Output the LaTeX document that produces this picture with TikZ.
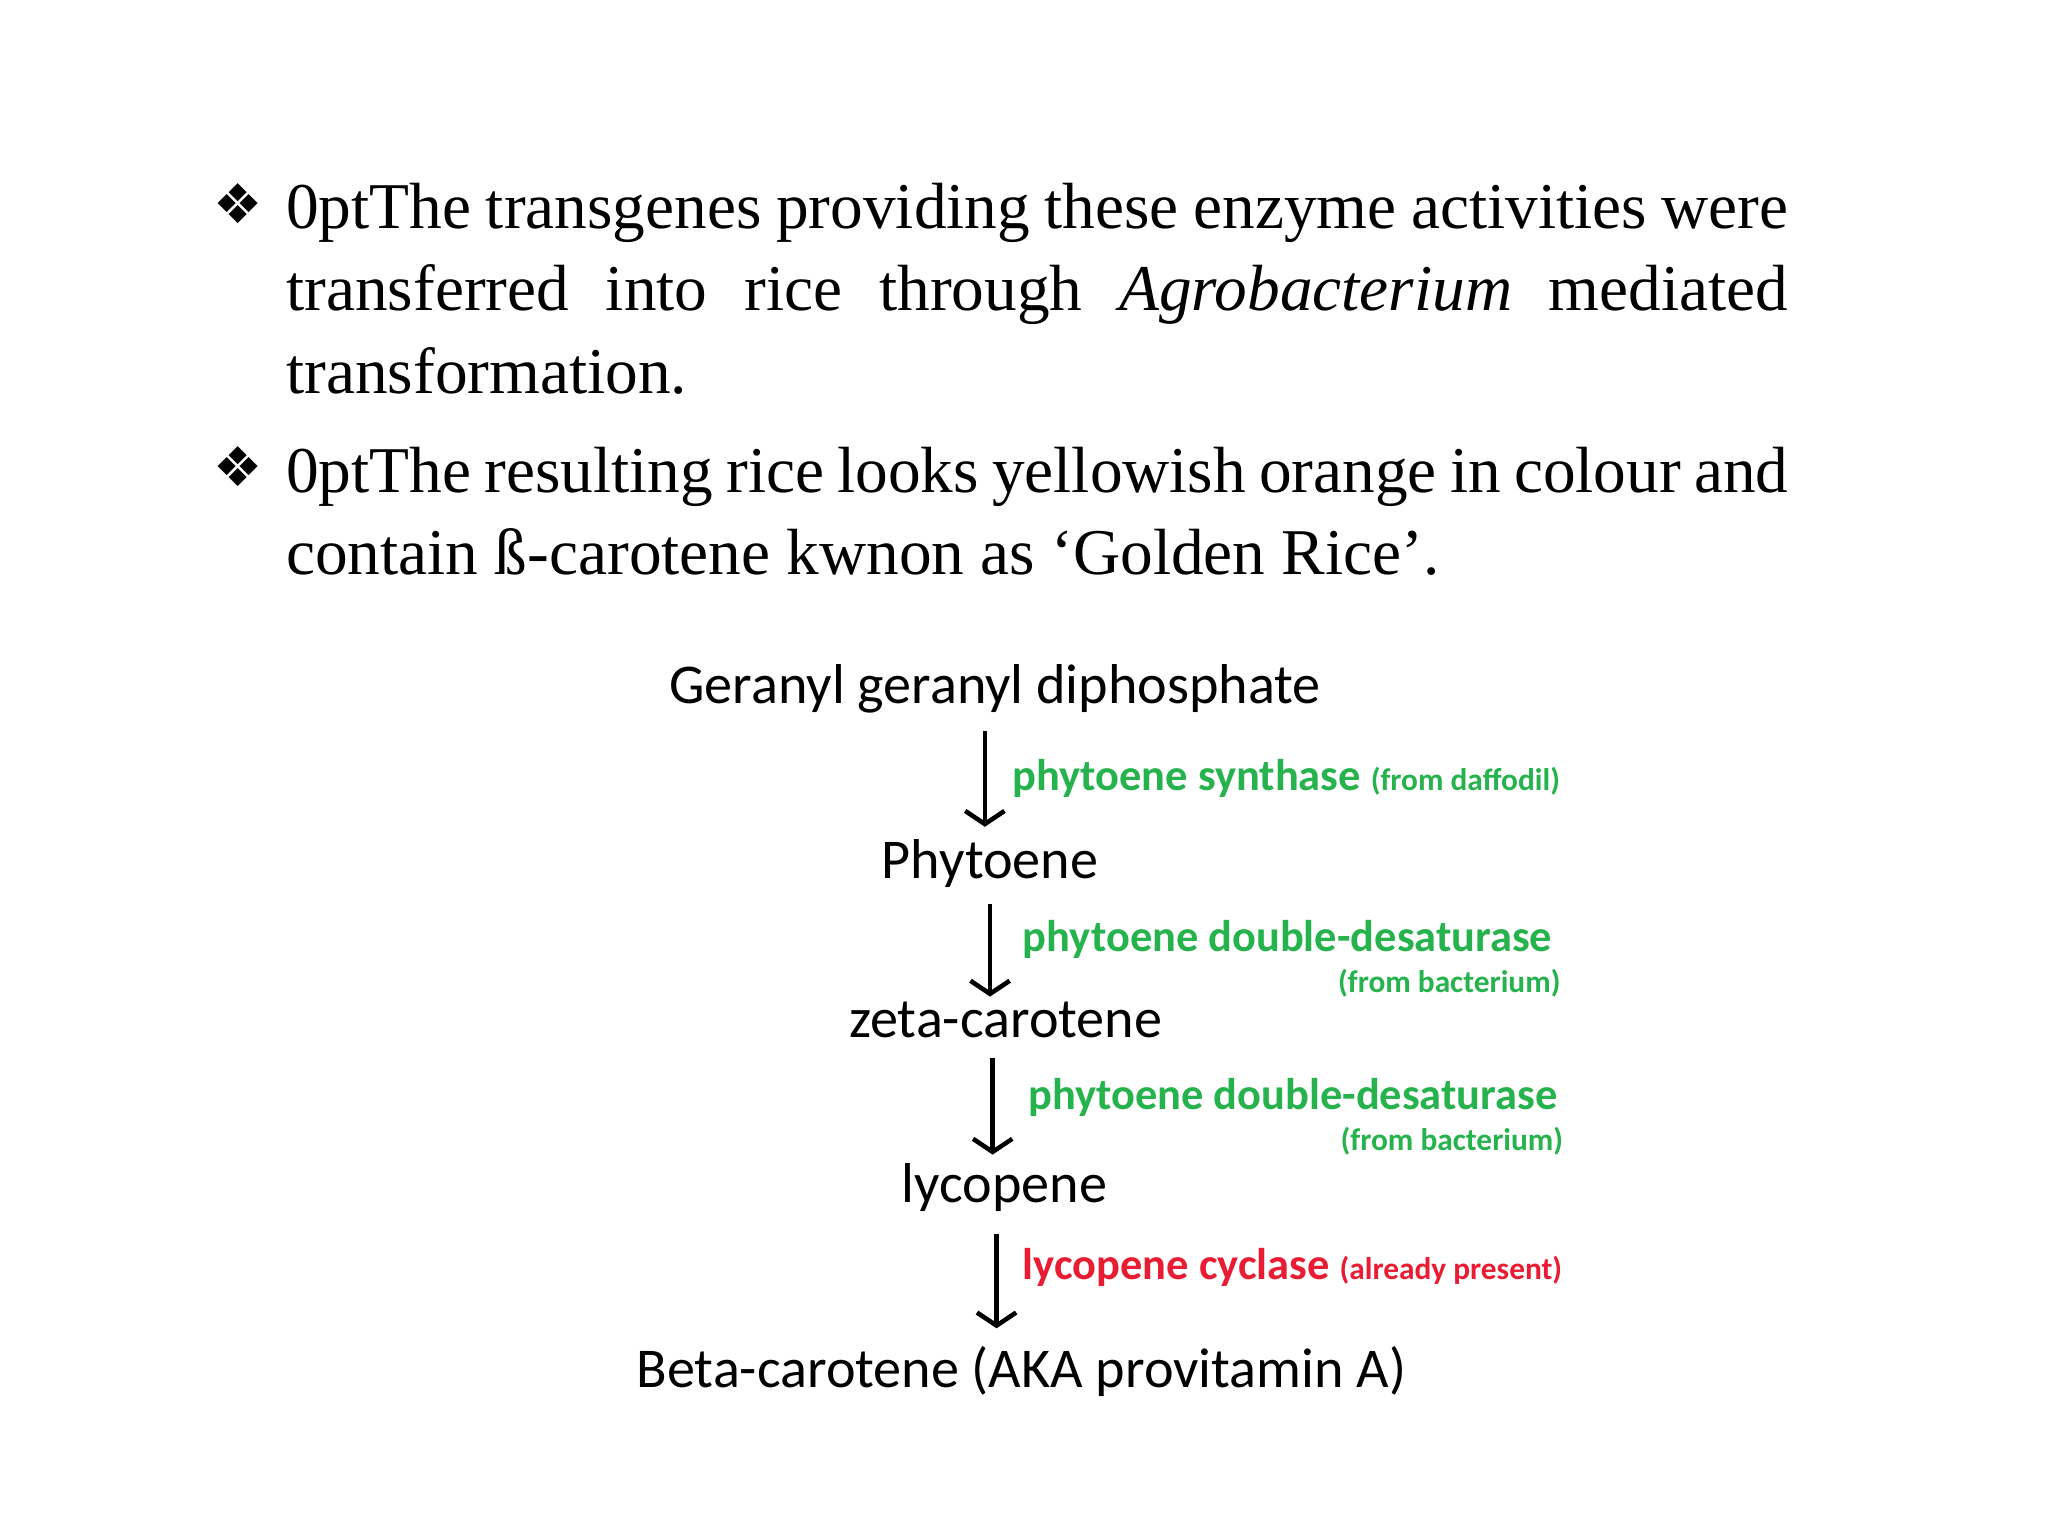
\documentclass[tikz,border=0pt]{standalone}
\usepackage{fontspec}
\setmainfont{Liberation Serif}
\newfontfamily\calfam{Carlito}
\newfontfamily\dvs{DejaVu Sans}
\usetikzlibrary{arrows.meta}
\definecolor{gr}{RGB}{38,178,76}
\definecolor{rd}{RGB}{232,28,50}
\tikzset{x=1pt,y=-1pt,
 body/.style={anchor=north west,text width=1150pt,align=justify,inner sep=0pt,font=\fontsize{50}{63}\selectfont\hyphenpenalty=10000\exhyphenpenalty=10000},
 bul/.style={anchor=north west,inner sep=0pt,font=\dvs\fontsize{42}{44}\selectfont},
 chem/.style={inner sep=0pt,font=\calfam\fontsize{43}{46}\selectfont},
 enz/.style={anchor=west,inner sep=0pt,text=gr,font=\calfam\bfseries\fontsize{34}{36}\selectfont},
 sm/.style={font=\calfam\bfseries\fontsize{24}{26}\selectfont},
 arr/.style={-{Straight Barb[length=10pt,width=30pt,line width=3.5pt]},line width=3.5pt,shorten >=2pt}}
\newcommand\smf{\calfam\bfseries\fontsize{24}{26}\selectfont}
\begin{document}
\begin{tikzpicture}
\useasboundingbox (0,0) rectangle (1568,1176);
\node[bul] (b1) at (163,140) {❖};
\node[body] (t1) at (219,140) {The transgenes providing these enzyme activities were transferred into rice through \textit{Agrobacterium} mediated transformation.};
\node[bul] (b2) at (163,342) {❖};
\node[body] (t2) at (219,342) {The resulting rice looks yellowish orange in colour and contain ß-carotene kwnon as ‘Golden Rice’.};
\node[chem] (g) at (762,527) {Geranyl geranyl diphosphate};
\node[chem] (p) at (758,661) {Phytoene};
\node[chem] (z) at (770,781) {zeta-carotene};
\node[chem] (l) at (769,909) {lycopene};
\node[chem] (b) at (782,1050) {Beta-carotene (AKA provitamin A)};
\coordinate (a1) at (754,560); \coordinate (a1e) at (754,635);
\coordinate (a2) at (758,692); \coordinate (a2e) at (758,765);
\coordinate (a3) at (760,810); \coordinate (a3e) at (760,886);
\coordinate (a4) at (763,945); \coordinate (a4e) at (763,1019);
\draw[arr] (a1) -- (a1e);
\draw[arr] (a2) -- (a2e);
\draw[arr] (a3) -- (a3e);
\draw[arr] (a4) -- (a4e);
\node[enz] (e1) at (775,596) {phytoene synthase {\smf (from daffodil)}};
\node[enz] (e2) at (783,719) {phytoene double-desaturase};
\node[enz,sm,anchor=east] (e2b) at (1195,753) {(from bacterium)};
\node[enz] (e3) at (787,840) {phytoene double-desaturase};
\node[enz,sm,anchor=east] (e3b) at (1197,874) {(from bacterium)};
\node[enz,text=rd] (e4) at (783,970) {lycopene cyclase {\smf (already present)}};
\end{tikzpicture}
\end{document}
